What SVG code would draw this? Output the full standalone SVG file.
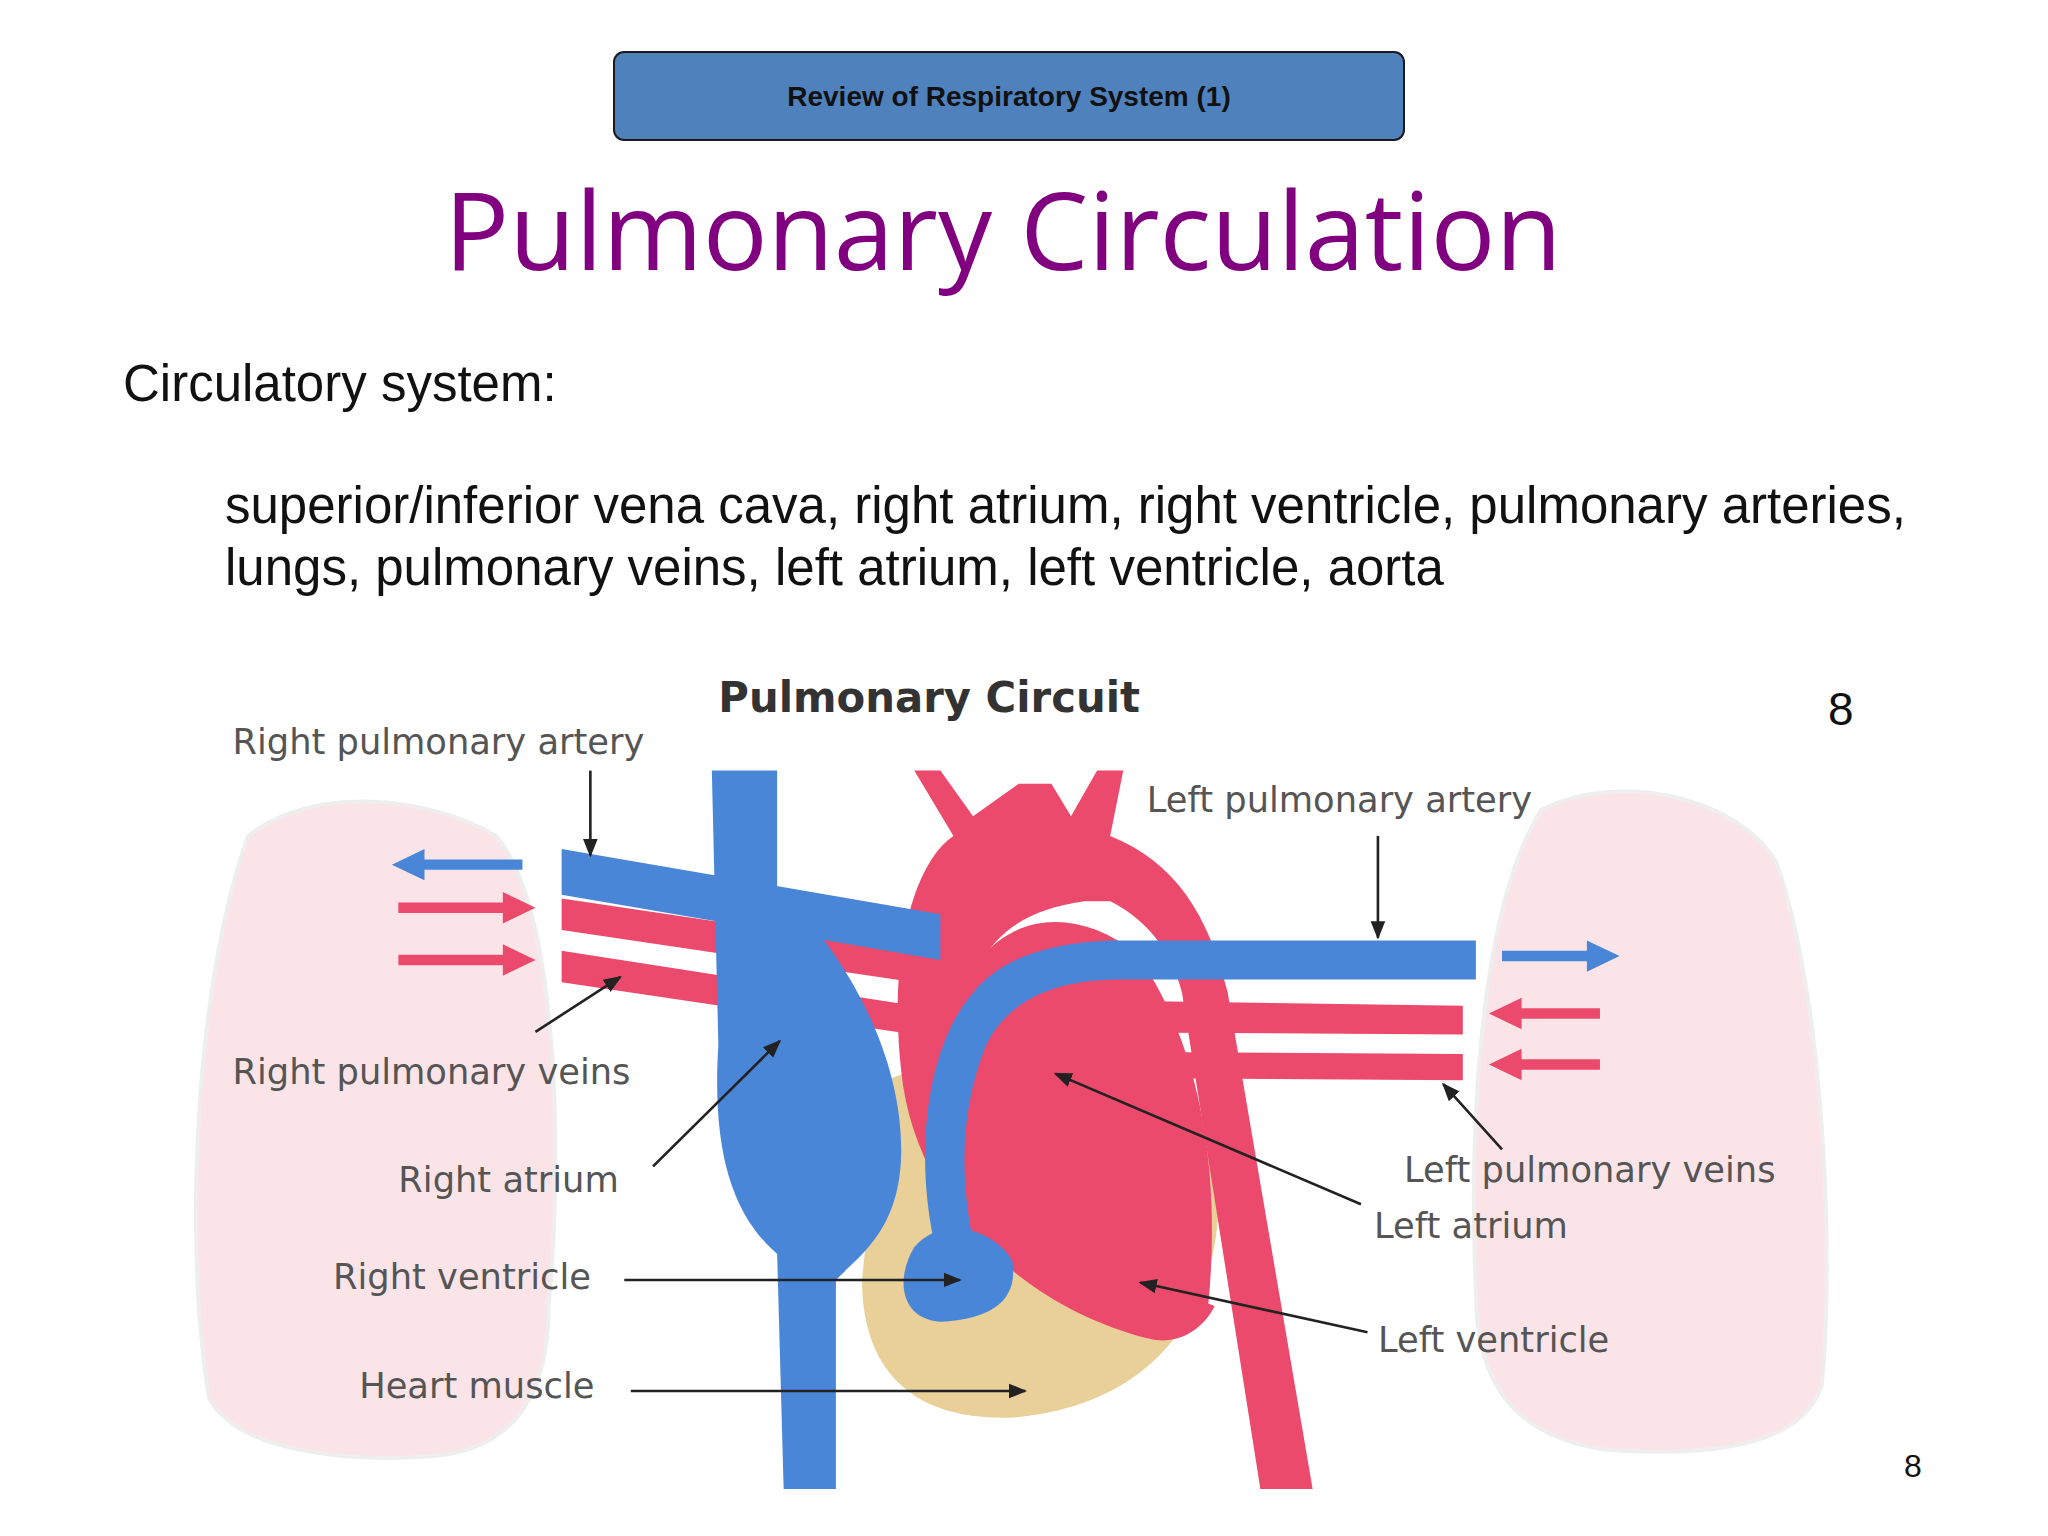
<svg xmlns="http://www.w3.org/2000/svg" width="2048" height="1536" viewBox="0 0 2048 1536">
<defs>
<marker id="ah" viewBox="0 0 10 10" refX="9" refY="5" markerWidth="7" markerHeight="7" orient="auto"><path d="M0,1 L10,5 L0,9 z" fill="#222"/></marker>
<style>
.lbl{font-family:"DejaVu Sans",sans-serif;font-size:27px;fill:#555}
.ln{stroke:#222;stroke-width:2;fill:none;marker-end:url(#ah)}
.blue{fill:#4a86d8}
.red{fill:#ec4a6c}
</style>
</defs>
<rect width="2048" height="1536" fill="#fff"/>
<g id="header">
<rect x="614" y="52" width="790" height="88" rx="10" fill="#4f81bd" stroke="#1a1a1a" stroke-width="2"/>
<text x="1009" y="106" text-anchor="middle" font-family="Liberation Sans,sans-serif" font-weight="bold" font-size="28" fill="#111">Review of Respiratory System (1)</text>
</g>
<text x="1003" y="270" text-anchor="middle" font-family="Open Sans,sans-serif" font-size="108" fill="#800080">Pulmonary Circulation</text>
<g font-family="Liberation Sans,sans-serif" font-size="51" fill="#111">
<text x="123" y="401">Circulatory system:</text>
<text x="225" y="523">superior/inferior vena cava, right atrium, right ventricle, pulmonary arteries,</text>
<text x="225" y="585">lungs, pulmonary veins, left atrium, left ventricle, aorta</text>
<text x="1828" y="725" font-size="46">8</text>
<text x="1904" y="1477" font-size="32">8</text>
</g>
<g id="illustration" transform="scale(1.3061)">
<path d="M190,640 C240,600 330,610 380,640 C430,700 430,900 420,1000 C420,1060 400,1110 330,1115 C260,1120 180,1110 160,1070 C140,950 150,750 190,640 z" fill="#fbe4e8" stroke="#eee" stroke-width="3"/>
<path d="M1180,620 C1240,590 1330,610 1360,660 C1395,760 1405,950 1395,1060 C1380,1110 1300,1115 1230,1110 C1160,1100 1130,1060 1130,990 C1125,880 1130,700 1180,620 z" fill="#fbe4e8" stroke="#eee" stroke-width="3"/>
<path d="M675,830 C720,800 860,810 925,860 C950,950 920,1070 780,1085 C700,1090 660,1050 660,980 z" fill="#e9cf98"/>
<path class="red" d="M700,590 L720,590 L745,625 L780,600 L805,600 L820,625 L840,590 L860,590 L850,640 C900,660 925,700 940,760 L1005,1140 L965,1140 L905,760 C895,720 870,700 850,690 L830,690 C760,700 735,740 735,820 C750,880 800,950 890,985 L930,1000 C920,1020 900,1030 880,1025 C780,1000 700,920 690,820 C680,730 700,660 730,640 z"/>
<path class="red" d="M735,760 C760,700 820,690 870,730 C920,800 935,900 925,1000 C870,1010 800,970 760,900 C740,860 730,800 735,760 z"/>
<path class="red" d="M430,688 L700,728 L700,752 L430,712 z M430,728 L700,770 L700,792 L430,752 z M770,765 L1120,770 L1120,792 L770,790 z M800,805 L1120,807 L1120,827 L800,825 z"/>
<path class="blue" d="M545,590 L595,590 L595,680 C640,720 690,800 690,880 C690,940 660,960 640,980 L640,1140 L600,1140 L595,960 C560,930 545,880 550,800 z"/>
<path class="blue" d="M430,650 L720,700 L720,735 L430,685 z"/>
<path class="blue" d="M700,955 C720,930 760,940 775,965 C780,995 760,1010 720,1012 C690,1010 685,980 700,955 z"/>
<path class="blue" d="M715,950 C700,880 710,800 745,760 C765,735 800,722 850,720 L1130,720 L1130,750 L850,750 C800,752 770,770 755,800 C735,850 735,900 745,950 z"/>
<path class="blue" d="M300,662 L325,650 L325,658 L400,658 L400,666 L325,666 L325,674 z M1240,732 L1215,720 L1215,728 L1150,728 L1150,736 L1215,736 L1215,744 z"/>
<path class="red" d="M410,695 L385,683 L385,691 L305,691 L305,699 L385,699 L385,707 z M410,735 L385,723 L385,731 L305,731 L305,739 L385,739 L385,747 z M1140,776 L1165,764 L1165,772 L1225,772 L1225,780 L1165,780 L1165,788 z M1140,815 L1165,803 L1165,811 L1225,811 L1225,819 L1165,819 L1165,827 z"/>
<g id="connectors">
<line class="ln" x1="452" y1="590" x2="452" y2="655"/>
<line class="ln" x1="1055" y1="640" x2="1055" y2="718"/>
<line class="ln" x1="410" y1="790" x2="475" y2="748"/>
<line class="ln" x1="500" y1="893" x2="597" y2="797"/>
<line class="ln" x1="478" y1="980" x2="735" y2="980"/>
<line class="ln" x1="483" y1="1065" x2="785" y2="1065"/>
<line class="ln" x1="1150" y1="880" x2="1105" y2="830"/>
<line class="ln" x1="1042" y1="922" x2="808" y2="822"/>
<line class="ln" x1="1047" y1="1020" x2="873" y2="982"/>
</g>
<text x="550" y="545" font-family="DejaVu Sans,sans-serif" font-weight="bold" font-size="32" fill="#333">Pulmonary Circuit</text>
<text class="lbl" x="178" y="577">Right pulmonary artery</text>
<text class="lbl" x="878" y="622">Left pulmonary artery</text>
<text class="lbl" x="178" y="830">Right pulmonary veins</text>
<text class="lbl" x="305" y="913">Right atrium</text>
<text class="lbl" x="255" y="987">Right ventricle</text>
<text class="lbl" x="275" y="1070">Heart muscle</text>
<text class="lbl" x="1075" y="905">Left pulmonary veins</text>
<text class="lbl" x="1052" y="948">Left atrium</text>
<text class="lbl" x="1055" y="1035">Left ventricle</text>
</g>
</svg>
